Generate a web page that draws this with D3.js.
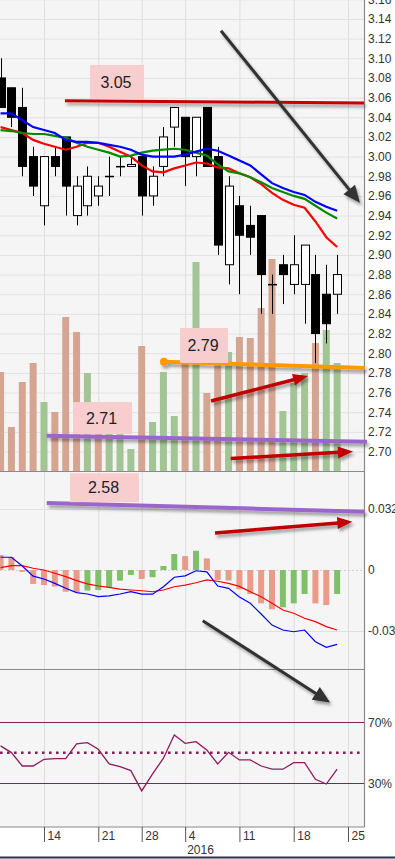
<!DOCTYPE html>
<html>
<head>
<meta charset="utf-8">
<script src="https://cdnjs.cloudflare.com/ajax/libs/d3/7.8.5/d3.min.js"></script>
<style>
  body { margin: 0; background: #fff; }
  svg { display: block; font-family: "Liberation Sans", Arial, sans-serif; }
</style>
</head>
<body>
<div id="chart"></div>
<script>
// trading days on the chart (Dec 8 2015 .. Jan 22 2016)
var days = ["12-08","12-09","12-10","12-11","12-14","12-15","12-16","12-17","12-18",
            "12-21","12-22","12-23","12-24","12-28","12-29","12-30","12-31",
            "01-04","01-05","01-06","01-07","01-08","01-11","01-12","01-13","01-14","01-15",
            "01-18","01-19","01-20","01-21","01-22"];

// candles
var open  = [3.08,3.07,3.05,3.00,2.95,3.00,3.02,2.94,2.95,2.96,2.98,2.99,2.99,3.00,2.96,2.99,3.03,
             3.04,3.00,3.05,3.00,2.89,2.95,2.93,2.94,2.87,2.89,2.87,2.87,2.88,2.86,2.86];
var high  = [3.10,3.07,3.07,3.01,3.00,3.01,3.02,2.98,2.99,2.98,3.00,3.00,3.00,3.00,2.99,3.03,3.05,
             3.04,3.04,3.05,3.01,2.98,2.96,2.95,2.94,2.88,2.90,2.92,2.91,2.90,2.89,2.90];
var low   = [3.05,3.03,2.98,2.96,2.93,2.98,2.94,2.93,2.94,2.95,2.96,2.98,2.99,2.94,2.95,2.98,3.01,
             2.97,2.98,2.99,2.90,2.87,2.86,2.90,2.84,2.84,2.85,2.86,2.83,2.79,2.81,2.84];
var close = [3.05,3.04,2.99,2.97,3.00,2.99,2.97,2.97,2.98,2.97,2.98,2.99,2.992,2.96,2.98,3.02,3.05,
             3.00,3.04,2.99,2.91,2.97,2.92,2.918,2.88,2.87,2.88,2.89,2.91,2.82,2.83,2.88];

// volume (relative units)
var volume = [99,44,89,108,69,59,154,139,98,50,46,39,22,125,49,99,55,
              125,209,78,120,119,134,133,163,212,60,88,98,128,141,108];

// moving averages
var maBlue  = [3.044,3.044,3.037,3.030,3.027,3.024,3.017,3.015,3.015,3.014,3.012,3.010,3.007,3.002,3.000,3.000,
               3.000,3.002,3.005,3.008,3.006,3.001,2.996,2.991,2.982,2.973,2.968,2.964,2.961,2.954,2.949,2.945];
var maGreen = [3.027,3.026,3.024,3.023,3.023,3.021,3.019,3.014,3.010,3.007,3.004,3.000,3.001,3.004,3.006,3.007,
               3.008,3.007,3.004,3.001,2.992,2.985,2.983,2.979,2.974,2.968,2.964,2.960,2.957,2.950,2.943,2.937];
var maRed   = [3.030,3.027,3.024,3.017,3.013,3.010,3.007,3.010,3.014,3.014,3.010,3.005,3.000,2.991,2.985,2.984,
               2.988,2.991,2.994,2.993,2.989,2.988,2.983,2.979,2.972,2.963,2.956,2.951,2.948,2.934,2.918,2.908];

// MACD
var macdHist   = [0.0079,0.0068,-0.0010,-0.0073,-0.0079,-0.0087,-0.0114,-0.0116,-0.0108,-0.0105,-0.0091,-0.0056,
                  -0.0026,-0.0047,-0.0038,0.0021,0.0084,0.0073,0.0101,0.0061,-0.0052,-0.0055,-0.0101,-0.0126,
                  -0.0175,-0.0206,-0.0196,-0.0175,-0.0126,-0.0175,-0.0184,-0.0126];
var macdLine   = [0.0067,0.0067,0.0021,-0.0032,-0.0047,-0.0070,-0.0096,-0.0119,-0.0126,-0.0140,-0.0136,-0.0126,
                  -0.0114,-0.0127,-0.0127,-0.0088,-0.0038,-0.0031,-0.0004,-0.0010,-0.0084,-0.0096,-0.0142,-0.0175,
                  -0.0231,-0.0289,-0.0315,-0.0324,-0.0315,-0.0376,-0.0406,-0.0390];
var macdSignal = [0.0012,0.0023,0.0023,0.0009,0.0000,-0.0017,-0.0035,-0.0056,-0.0073,-0.0084,-0.0091,-0.0100,
                  -0.0105,-0.0109,-0.0114,-0.0105,-0.0088,-0.0079,-0.0067,-0.0052,-0.0059,-0.0070,-0.0086,-0.0114,
                  -0.0140,-0.0175,-0.0210,-0.0227,-0.0253,-0.0271,-0.0297,-0.0315];

// RSI
var rsi = [54.5,50.1,41.3,41.3,45.7,46.1,46.1,55.8,56.6,52.3,42.7,40.9,38.3,25.0,36.1,46.4,61.7,
           56.2,57.3,51.8,42.7,50.3,45.3,45.3,41.3,39.2,39.2,43.5,43.5,32.6,29.5,39.2];

// axis ticks
var priceTicks = [2.70,2.72,2.74,2.76,2.78,2.80,2.82,2.84,2.86,2.88,2.90,2.92,2.94,2.96,2.98,
                  3.00,3.02,3.04,3.06,3.08,3.10,3.12,3.14,3.16];
var macdTicks = [0.032, 0, -0.032];
var rsiTicks = [70, 30];
var dateTicks = [4, 9, 13, 17, 22, 27, 32];      // slot index of each labelled day
var dateLabels = ["14", "21", "28", "4", "11", "18", "25"];

var width = 395, height = 859,
    plotRight = 364,
    mainBottom = 471.5, macdBottom = 669.5, rsiBottom = 827;

var svg = d3.select("#chart").append("svg").attr("width", width).attr("height", height);

// scales
var x = d3.scaleLinear().domain([0, 32]).range([0.57, 348]);
var yPrice = d3.scaleLinear().domain([2.68, 3.16]).range([471.2, -0.7]);
var yVol = d3.scaleLinear().domain([0, 235]).range([471, 236]);
var yMacd = d3.scaleLinear().domain([-0.052, 0.052]).range([669.1, 470.9]);
var yRsi = d3.scaleLinear().domain([0, 100]).range([829, 676.5]);

function cx(i) { return Math.round(x(i)) + 0.5; }

// shadow for the drawn annotations
var defs = svg.append("defs");
defs.append("filter").attr("id", "shadow").attr("filterUnits", "userSpaceOnUse")
    .attr("x", -20).attr("y", -20).attr("width", 440).attr("height", 900)
    .append("feDropShadow").attr("dx", 2).attr("dy", 3).attr("stdDeviation", 1.8)
    .attr("flood-color", "#000").attr("flood-opacity", 0.35);
defs.append("clipPath").attr("id", "clipMain").append("rect")
    .attr("x", 0).attr("y", 0).attr("width", plotRight).attr("height", mainBottom);
defs.append("clipPath").attr("id", "clipMacd").append("rect")
    .attr("x", 0).attr("y", mainBottom).attr("width", plotRight).attr("height", macdBottom - mainBottom);
defs.append("clipPath").attr("id", "clipRsi").append("rect")
    .attr("x", 0).attr("y", macdBottom).attr("width", plotRight).attr("height", rsiBottom - macdBottom);

// plot background
svg.append("rect").attr("x", 0).attr("y", 0).attr("width", plotRight).attr("height", rsiBottom)
    .attr("fill", "#f5f5f5");

// vertical grid
svg.append("g").attr("transform", "translate(0," + rsiBottom + ")")
    .call(d3.axisBottom(x).tickValues(dateTicks).tickSize(-rsiBottom).tickFormat(""))
    .call(function (g) {
        g.select(".domain").remove();
        g.selectAll("line").attr("stroke", "#dedede");
    });

// price grid
svg.append("g").attr("clip-path", "url(#clipMain)")
    .call(d3.axisLeft(yPrice).tickValues(priceTicks).tickSize(-plotRight).tickFormat(""))
    .call(function (g) {
        g.select(".domain").remove();
        g.selectAll("line").attr("stroke", "#e2e2e2");
    });

// macd grid
svg.append("g")
    .call(d3.axisLeft(yMacd).tickValues(macdTicks).tickSize(-plotRight).tickFormat(""))
    .call(function (g) {
        g.select(".domain").remove();
        g.selectAll("line").attr("stroke", function (d) { return d === 0 ? "#d0d0d0" : "#e0e0e0"; })
            .attr("stroke-dasharray", function (d) { return d === 0 ? "2,2" : null; });
    });

// volume bars
var main = svg.append("g").attr("clip-path", "url(#clipMain)");
main.append("g").selectAll("rect").data(volume).enter().append("rect")
    .attr("x", function (d, i) { return x(i) - 3.5; })
    .attr("width", 7)
    .attr("y", function (d) { return yVol(d); })
    .attr("height", function (d) { return yVol(0) - yVol(d); })
    .attr("fill", function (d, i) {
        var up = i === 0 ? close[i] > open[i] : close[i] > close[i - 1];
        return up ? "#a3c494" : "#d6a592";
    });

// candles
var candle = main.append("g").selectAll("g").data(days).enter().append("g");
candle.append("line")
    .attr("x1", function (d, i) { return cx(i); }).attr("x2", function (d, i) { return cx(i); })
    .attr("y1", function (d, i) { return yPrice(high[i]); })
    .attr("y2", function (d, i) { return yPrice(low[i]); })
    .attr("stroke", "#000").attr("stroke-width", 1);
candle.append("rect")
    .attr("x", function (d, i) { return cx(i) - 4; })
    .attr("width", 8)
    .attr("y", function (d, i) { return yPrice(Math.max(open[i], close[i])); })
    .attr("height", function (d, i) { return Math.max(0.5, Math.abs(yPrice(open[i]) - yPrice(close[i]))); })
    .attr("fill", function (d, i) { return close[i] >= open[i] ? "#fff" : "#000"; })
    .attr("stroke", "#000").attr("stroke-width", 1);

// moving averages
var maLine = d3.line().x(function (d, i) { return x(i); }).y(function (d) { return yPrice(d); });
[[maRed, "#ff0000"], [maGreen, "#008a00"], [maBlue, "#0000ff"]].forEach(function (m) {
    main.append("path").datum(m[0]).attr("d", maLine)
        .attr("fill", "none").attr("stroke", m[1]).attr("stroke-width", 2.2);
});

// macd panel
var macd = svg.append("g").attr("clip-path", "url(#clipMacd)");
macd.append("g").selectAll("rect").data(macdHist).enter().append("rect")
    .attr("x", function (d, i) { return x(i) - 3; })
    .attr("width", 6)
    .attr("y", function (d) { return yMacd(Math.max(0, d)); })
    .attr("height", function (d) { return Math.abs(yMacd(d) - yMacd(0)); })
    .attr("fill", function (d, i) { return i > 0 && d > macdHist[i - 1] ? "#80c06b" : "#eb9b89"; });
var macdPath = d3.line().x(function (d, i) { return x(i); }).y(function (d) { return yMacd(d); });
macd.append("path").datum(macdSignal).attr("d", macdPath)
    .attr("fill", "none").attr("stroke", "#ff0000").attr("stroke-width", 1.2);
macd.append("path").datum(macdLine).attr("d", macdPath)
    .attr("fill", "none").attr("stroke", "#0000ff").attr("stroke-width", 1.2);

// rsi panel
var rsiG = svg.append("g").attr("clip-path", "url(#clipRsi)");
rsiG.selectAll(".band").data(rsiTicks).enter().append("line")
    .attr("x1", 0).attr("x2", plotRight)
    .attr("y1", function (d) { return Math.round(yRsi(d)) + 0.5; })
    .attr("y2", function (d) { return Math.round(yRsi(d)) + 0.5; })
    .attr("stroke", "#8c1c5c").attr("stroke-width", 1.2);
rsiG.append("line").attr("x1", 0).attr("x2", plotRight)
    .attr("y1", yRsi(50)).attr("y2", yRsi(50))
    .attr("stroke", "#8c1c5c").attr("stroke-width", 2.6).attr("stroke-dasharray", "2.6,4.4");
rsiG.append("path").datum(rsi)
    .attr("d", d3.line().x(function (d, i) { return x(i); }).y(function (d) { return yRsi(d); }))
    .attr("fill", "none").attr("stroke", "#8c1c5c").attr("stroke-width", 1.3);

// panel borders
var border = svg.append("g").attr("stroke", "#8a8a8a").attr("stroke-width", 1.2);
[mainBottom, macdBottom, rsiBottom].forEach(function (y) {
    border.append("line").attr("x1", 0).attr("x2", plotRight + 0.5).attr("y1", y).attr("y2", y);
});
border.append("line").attr("x1", plotRight + 0.5).attr("x2", plotRight + 0.5).attr("y1", 0).attr("y2", rsiBottom);

// right axes
function rightAxis(scale, ticks, fmt) {
    svg.append("g").attr("transform", "translate(" + plotRight + ",0)")
        .call(d3.axisRight(scale).tickValues(ticks).tickSize(0).tickPadding(4).tickFormat(fmt))
        .call(function (g) {
            g.select(".domain").remove();
            g.selectAll("text").attr("fill", "#333").attr("font-size", 12)
                .attr("font-family", "Liberation Sans, Arial, sans-serif");
        });
}
rightAxis(yPrice, priceTicks, d3.format(".2f"));
rightAxis(yMacd, macdTicks, function (d) { return d === 0 ? "0" : d.toFixed(3); });
rightAxis(yRsi, rsiTicks, function (d) { return d + "%"; });

// date axis
svg.append("g").attr("transform", "translate(0," + rsiBottom + ")")
    .call(d3.axisBottom(x).tickValues(dateTicks).tickSize(15)
        .tickFormat(function (d, i) { return dateLabels[i]; }))
    .call(function (g) {
        g.select(".domain").remove();
        g.selectAll("line").attr("stroke", "#555");
        g.selectAll("text").attr("fill", "#333").attr("font-size", 12)
            .attr("font-family", "Liberation Sans, Arial, sans-serif")
            .attr("text-anchor", "start").attr("x", 3).attr("y", 13).attr("dy", 0);
    });
svg.append("text").attr("x", x(17) + 2).attr("y", 854).text("2016")
    .attr("fill", "#333").attr("font-size", 12);
svg.append("line").attr("x1", 0).attr("x2", width).attr("y1", 857.5).attr("y2", 857.5)
    .attr("stroke", "#30304a").attr("stroke-width", 2);

// drawn annotations
var notes = svg.append("g").attr("filter", "url(#shadow)");

function segment(x1, y1, x2, y2, color, w) {
    notes.append("line").attr("x1", x1).attr("y1", y1).attr("x2", x2).attr("y2", y2)
        .attr("stroke", color).attr("stroke-width", w).attr("stroke-linecap", "butt");
}

function arrow(x1, y1, x2, y2, color, w, headLen, headW) {
    var a = Math.atan2(y2 - y1, x2 - x1),
        bx = x2 - headLen * Math.cos(a),
        by = y2 - headLen * Math.sin(a),
        nx = Math.sin(a) * headW / 2,
        ny = Math.cos(a) * headW / 2;
    segment(x1, y1, bx + Math.cos(a), by + Math.sin(a), color, w);
    notes.append("path")
        .attr("d", "M" + x2 + "," + y2 + "L" + (bx + nx) + "," + (by - ny) + "L" + (bx - nx) + "," + (by + ny) + "Z")
        .attr("fill", color);
}

function label(cxv, cyv, w, h, text) {
    svg.append("rect").attr("x", cxv - w / 2).attr("y", cyv - h / 2).attr("width", w).attr("height", h)
        .attr("fill", "#f8cdcd");
    svg.append("text").attr("x", cxv - 1).attr("y", cyv).attr("dy", "0.36em")
        .attr("text-anchor", "middle").attr("font-size", 16).attr("fill", "#1c1c2c").text(text);
}

// resistance line 3.05
segment(x(5.93), yPrice(3.0569), plotRight, yPrice(3.0545), "#c40000", 3);
// orange support 2.79
segment(x(15.05), yPrice(2.7914), plotRight + 1, yPrice(2.785), "#ff9900", 4);
notes.append("circle").attr("cx", x(15.05)).attr("cy", yPrice(2.7914)).attr("r", 4).attr("fill", "#ff9900");
// purple support 2.71
segment(x(4.25), yPrice(2.7161), plotRight + 3, yPrice(2.7099), "#9b66cc", 4);
// purple line in macd panel
segment(x(4.25), yMacd(0.0352), plotRight + 1, yMacd(0.0306), "#9b66cc", 4);

// arrows
arrow(x(20.3), yPrice(3.128), x(33.1), yPrice(2.953), "#333", 3, 17, 15);
arrow(x(19.38), yPrice(2.7514), x(28.32), yPrice(2.7768), "#c00000", 3.5, 15, 12);
arrow(x(21.2), yPrice(2.6929), x(32.46), yPrice(2.700), "#c00000", 3.5, 15, 12);
arrow(x(19.75), yMacd(0.0194), x(32.4), yMacd(0.0253), "#c00000", 3.5, 15, 12);
arrow(x(18.62), yMacd(-0.0266), x(30.35), yRsi(82.9), "#333", 3, 17, 15);

// price labels
label(x(10.72), yPrice(3.0759), 54, 34, "3.05");
label(x(18.74), yPrice(2.8079), 48, 35, "2.79");
label(x(9.39), yPrice(2.734), 59, 32, "2.71");
label(x(9.57), yMacd(0.0432), 69, 29, "2.58");
</script>
</body>
</html>
